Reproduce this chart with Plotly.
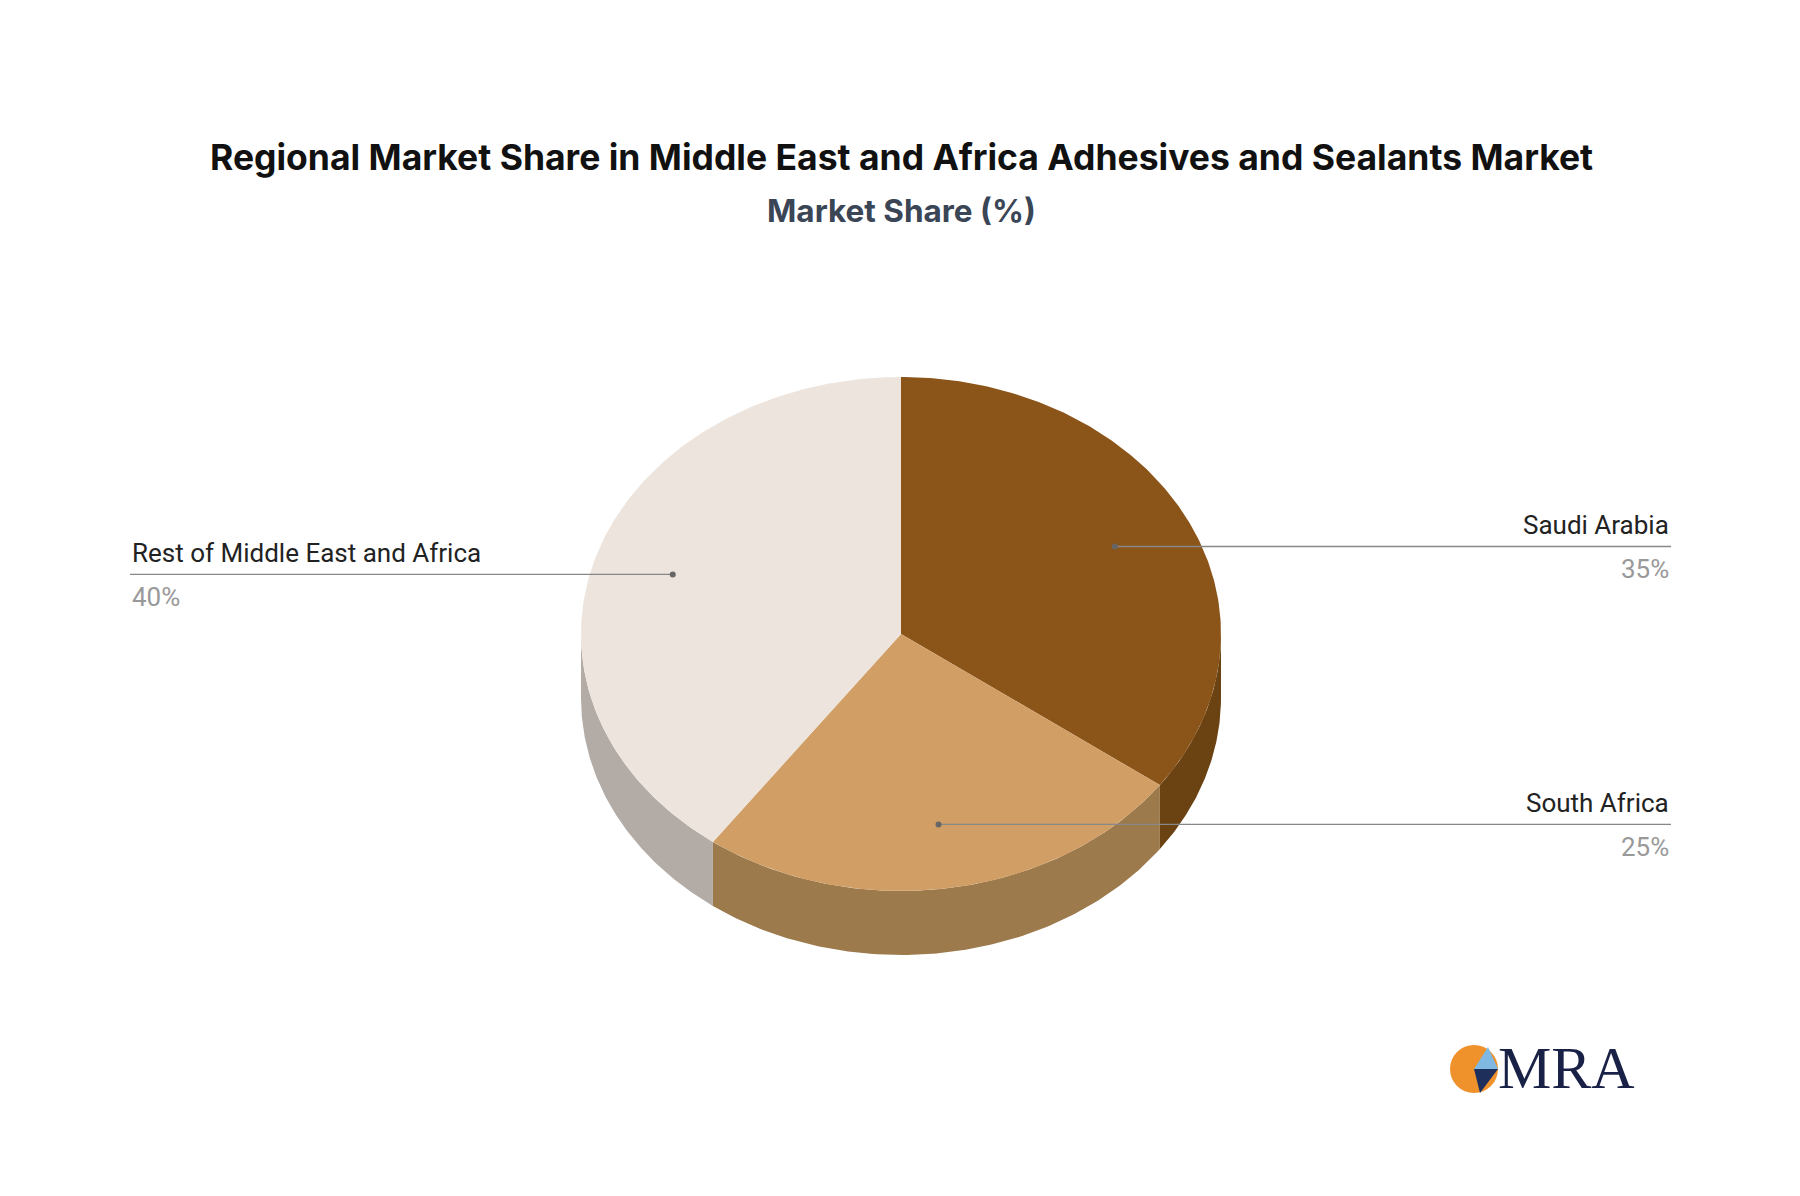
import numpy as np
import plotly.graph_objects as go

categories = ["Saudi Arabia", "South Africa", "Rest of Middle East and Africa"]
shares = [35, 25, 40]
top_colors = ["#8B5419", "#D19F66", "#EDE5DD"]
side_colors = ["#6B4212", "#9C7A4C", "#B3ABA5"]

W, H = 1800, 1196
cx, cy, rx, ry, depth = 893, 626, 320, 257, 64

def pt(t, r=1.0, dy=0):
    return cx + r * rx * np.sin(t), cy - r * ry * np.cos(t) + dy

fig = go.Figure()
total = sum(shares)
bounds = np.cumsum([0] + shares) / total * 2 * np.pi

for i in range(len(shares)):
    a0, a1 = max(bounds[i], np.pi / 2), min(bounds[i + 1], 3 * np.pi / 2)
    if a1 <= a0:
        continue
    t = np.linspace(a0, a1, 120)
    xt, yt = pt(t)
    xb, yb = pt(t[::-1], dy=depth)
    fig.add_trace(go.Scatter(x=np.r_[xt, xb], y=np.r_[yt, yb], fill="toself", mode="lines",
                             line=dict(width=0, color=side_colors[i]), fillcolor=side_colors[i],
                             hoverinfo="skip", showlegend=False))
for i in range(len(shares)):
    t = np.linspace(bounds[i], bounds[i + 1], 200)
    x, y = pt(t)
    fig.add_trace(go.Scatter(x=np.r_[cx, x, cx], y=np.r_[cy, y, cy], fill="toself", mode="lines",
                             line=dict(width=0, color=top_colors[i]), fillcolor=top_colors[i],
                             hoverinfo="skip", showlegend=False))

for i, name in enumerate(categories):
    mid = (bounds[i] + bounds[i + 1]) / 2
    dx, dyy = pt(mid, 0.75)
    right = np.sin(mid) > 0
    ex = 1663 if right else 122
    fig.add_trace(go.Scatter(x=[dx, ex], y=[dyy, dyy], mode="lines", line=dict(color="#888", width=1.3),
                             hoverinfo="skip", showlegend=False))
    fig.add_trace(go.Scatter(x=[dx], y=[dyy], mode="markers", marker=dict(color="#666", size=6),
                             hoverinfo="skip", showlegend=False))
    anc = "right" if right else "left"
    fig.add_annotation(x=ex, y=dyy - 4, text=name, showarrow=False, xanchor=anc, yanchor="bottom",
                       font=dict(size=26, color="#222", family="Roboto"))
    fig.add_annotation(x=ex, y=dyy + 6, text=f"{shares[i]}%", showarrow=False, xanchor=anc, yanchor="top",
                       font=dict(size=26, color="#999", family="Roboto"))

fig.add_annotation(x=893, y=149, text="<b>Regional Market Share in Middle East and Africa Adhesives and Sealants Market</b>",
                   showarrow=False, font=dict(size=35.5, color="#111", family="Inter"))
fig.add_annotation(x=893, y=202, text="<b>Market Share (%)</b>", showarrow=False,
                   font=dict(size=31.5, color="#3a4556", family="Inter"))

fig.add_shape(type="circle", x0=1442, y0=1037, x1=1490, y1=1085, fillcolor="#F0922B", line_width=0)
fig.add_shape(type="path", path="M1466,1061 L1490,1061 L1472,1085 Z", fillcolor="#1F2F5C", line_width=0)
fig.add_shape(type="path", path="M1466,1061 L1480,1039 L1490,1061 Z", fillcolor="#7FB8E0", line_width=0)
fig.add_annotation(x=1488, y=1060, text="MRA", showarrow=False, xanchor="left",
                   font=dict(size=60, color="#1a2147", family="Liberation Serif"))

fig.update_xaxes(range=[0, W], visible=False, fixedrange=True)
fig.update_yaxes(range=[H, 0], visible=False, fixedrange=True)
fig.update_layout(width=W, height=H, margin=dict(l=0, r=0, t=0, b=0),
                  plot_bgcolor="white", paper_bgcolor="white")
fig.write_html("out.html")
